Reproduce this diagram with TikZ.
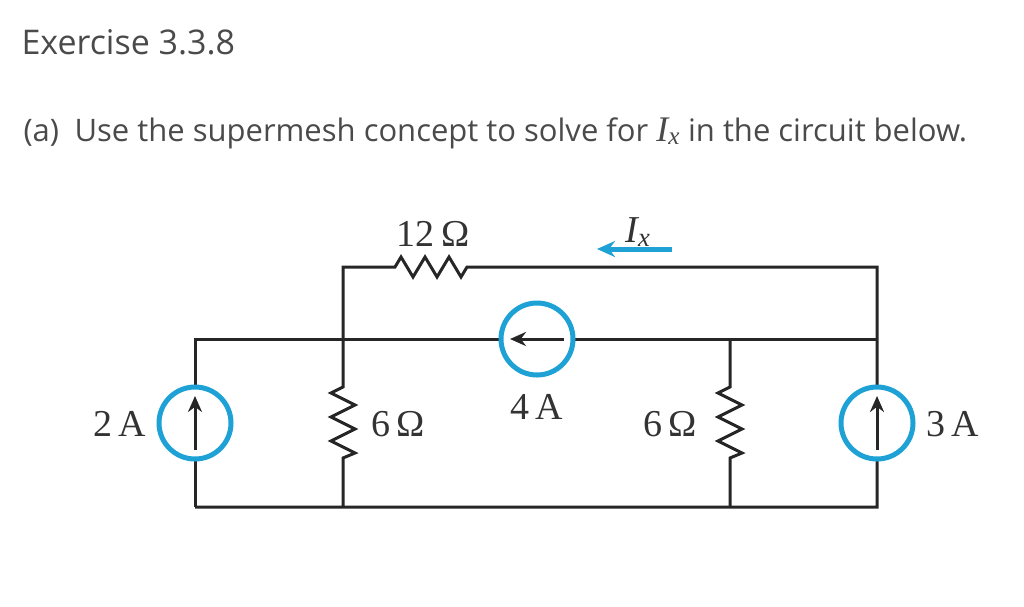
\documentclass[tikz,border=0pt]{standalone}
\usepackage{fontspec}
\setmainfont{Liberation Serif}
\newfontfamily\uifont{Open Sans}
\usetikzlibrary{arrows.meta}
\definecolor{cblue}{HTML}{1EA2D6}
\definecolor{tgray}{HTML}{4A4A4A}
\begin{document}
\begin{tikzpicture}[x=1pt,y=-1pt,line width=3pt,
  wire/.style={draw=black!85,line join=miter},
  src/.style={circle,draw=cblue,line width=5pt,minimum size=72pt,fill=white,inner sep=0},
  arr/.style={black!85,line width=3pt,-{Stealth[length=16pt,width=14pt]}},
  lbl/.style={font=\fontsize{38}{40}\selectfont,text=black!80,inner sep=0}]
\useasboundingbox (0,0) rectangle (1024,606);
\node[anchor=west,text=tgray,inner sep=0,font=\uifont\fontsize{34}{38}\selectfont] (title) at (20,42) {Exercise 3.3.8};
\node[anchor=west,text=tgray,inner sep=0,font=\uifont\fontsize{31}{36}\selectfont] (q) at (22,133) {(a)\enspace Use the supermesh concept to solve for {\rmfamily\itshape\fontsize{36}{36}\selectfont I\textsubscript{x}} in the circuit below.};
\coordinate (BL) at (195,507); \coordinate (TL) at (195,339);
\coordinate (MT) at (343,267); \coordinate (MB) at (343,507);
\coordinate (RT) at (877,267); \coordinate (RM) at (877,339); \coordinate (RB) at (877,507);
\coordinate (R2T) at (730,339); \coordinate (R2B) at (730,507);
\draw[wire] (BL) -- (TL) -- (RM);
\draw[wire] (BL) -- (RB) -- (RT) -- (467,267) -- ++(-6,10) -- ++(-12,-20) -- ++(-12,20) -- ++(-12,-20) -- ++(-12,20) -- ++(-12,-20) -- ++(-6,10) -- (MT) -- (343,387) -- ++(-12,6) -- ++(24,12) -- ++(-24,12) -- ++(24,12) -- ++(-24,12) -- ++(24,12) -- ++(-12,5) -- (MB);
\draw[wire] (R2T) -- (730,387) -- ++(-12,6) -- ++(24,12) -- ++(-24,12) -- ++(24,12) -- ++(-24,12) -- ++(24,12) -- ++(-12,5) -- (R2B);
\node[src] (s2) at (195,423) {};
\node[src] (s4) at (537,339) {};
\node[src] (s3) at (877,423) {};
\draw[arr] ([yshift=-27pt]s2.center) -- ([yshift=27pt]s2.center);
\draw[arr] ([yshift=-27pt]s3.center) -- ([yshift=27pt]s3.center);
\draw[arr] ([xshift=27pt]s4.center) -- ([xshift=-27pt]s4.center);
\node[lbl] (l12) at (433,234) {12\,Ω};
\node[lbl] (l6a) at (398,424) {6\,Ω};
\node[lbl] (l6b) at (670,424) {6\,Ω};
\node[lbl] (l4) at (537,407) {4\,A};
\node[lbl] (l2) at (120,424) {2\,A};
\node[lbl] (l3) at (953,424) {3\,A};
\coordinate (ixa) at (672,249); \coordinate (ixb) at (597,249);
\draw[cblue,line width=5pt,-{Stealth[length=18pt,width=16pt]}] (ixa) -- (ixb);
\node[lbl,font=\fontsize{38}{40}\selectfont\itshape] (ix) at (638,232) {I\textsubscript{x}};
\end{tikzpicture}
\end{document}
